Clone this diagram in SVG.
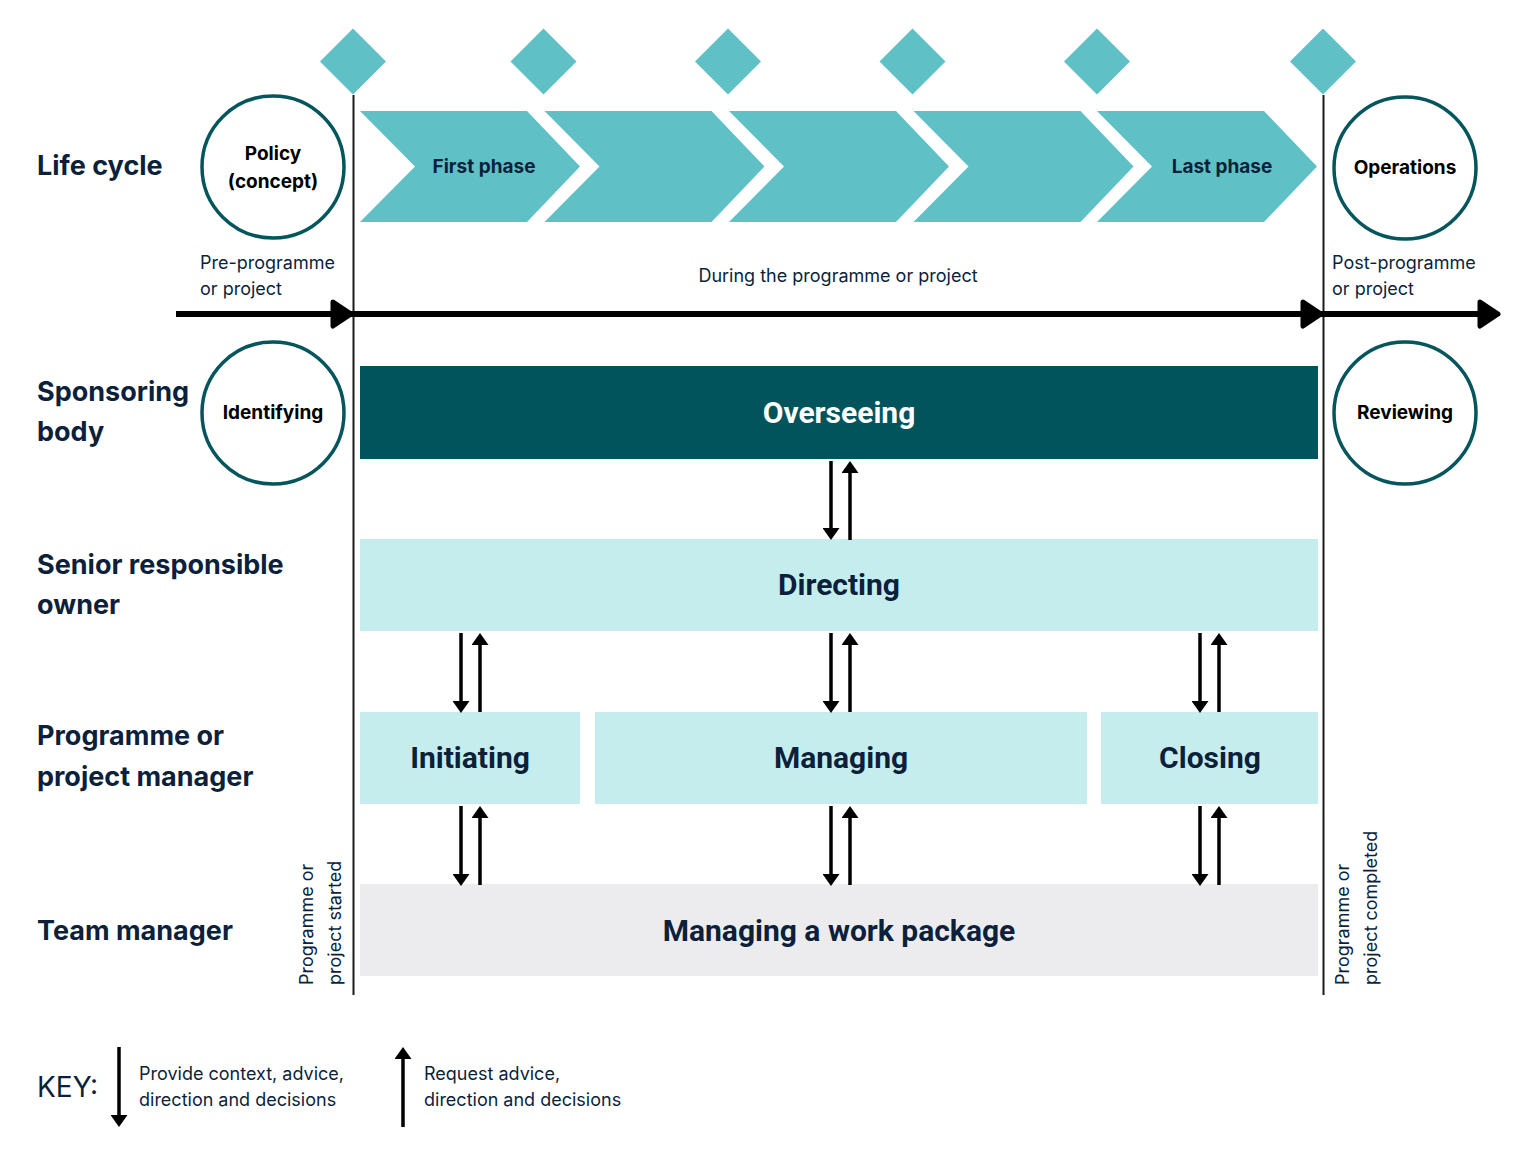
<svg xmlns="http://www.w3.org/2000/svg" width="1536" height="1159" viewBox="0 0 1536 1159">
<style>
.lbl{font-family:Inter,"Noto Sans",sans-serif;font-weight:700;font-size:27px;fill:#0c1f3b}
.sm{font-family:Inter,"Noto Sans",sans-serif;font-weight:400;font-size:18px;fill:#0c1f3b}
.ct{font-family:Inter,"Noto Sans",sans-serif;font-weight:700;font-size:19px;fill:#000;text-anchor:middle}
.ch{font-family:Inter,"Noto Sans",sans-serif;font-weight:700;font-size:19px;fill:#0c1f3b;text-anchor:middle}
.bar{font-family:Roboto,"Noto Sans",sans-serif;font-weight:700;font-size:30px;fill:#0c1f3b;text-anchor:middle}
.circ{fill:#fff;stroke:#04565c;stroke-width:3.5}
.dia{fill:#5fc0c5}
.chev{fill:#5fc0c5}
.vline{stroke:#1a1a1a;stroke-width:2}
.arr{stroke:#000;stroke-width:3.5;fill:none;marker-end:url(#head)}
.thead{fill:#000;stroke:#000;stroke-width:5;stroke-linejoin:round}
</style>
<defs>
<marker id="head" viewBox="0 0 12 17" refX="3" refY="8.5" markerWidth="12" markerHeight="17" markerUnits="userSpaceOnUse" orient="auto">
<path d="M0,0 L12,8.5 L0,17 Z" fill="#000"/>
</marker>
</defs>
<rect width="1536" height="1159" fill="#fff"/>

<g id="milestones">
<path class="dia" d="M353,28.5 L386,61.5 L353,94.5 L320,61.5 Z"/>
<path class="dia" d="M543.5,28.5 L576.5,61.5 L543.5,94.5 L510.5,61.5 Z"/>
<path class="dia" d="M728,28.5 L761,61.5 L728,94.5 L695,61.5 Z"/>
<path class="dia" d="M912.5,28.5 L945.5,61.5 L912.5,94.5 L879.5,61.5 Z"/>
<path class="dia" d="M1097,28.5 L1130,61.5 L1097,94.5 L1064,61.5 Z"/>
<path class="dia" d="M1323,28.5 L1356,61.5 L1323,94.5 L1290,61.5 Z"/>
</g>

<g id="vertical-lines">
<line class="vline" x1="353.5" y1="95" x2="353.5" y2="995"/>
<line class="vline" x1="1323.5" y1="95" x2="1323.5" y2="995"/>
</g>

<g id="phases">
<path class="chev" d="M360,111 L527,111 L580,166.5 L527,222 L360,222 L415,166.5 Z"/>
<path class="chev" d="M544.5,111 L711.5,111 L764.5,166.5 L711.5,222 L544.5,222 L599.5,166.5 Z"/>
<path class="chev" d="M729,111 L896,111 L949,166.5 L896,222 L729,222 L784,166.5 Z"/>
<path class="chev" d="M913.5,111 L1080.5,111 L1133.5,166.5 L1080.5,222 L913.5,222 L968.5,166.5 Z"/>
<path class="chev" d="M1097,111 L1264,111 L1317,166.5 L1264,222 L1097,222 L1152,166.5 Z"/>
<text class="ch" x="484" y="173">First phase</text>
<text class="ch" x="1222" y="173">Last phase</text>
</g>

<g id="policy">
<circle class="circ" cx="273" cy="167" r="71"/>
<text class="ct" x="273" y="160">Policy</text>
<text class="ct" x="273" y="188">(concept)</text>
</g>
<g id="operations">
<circle class="circ" cx="1405" cy="168" r="71"/>
<text class="ct" x="1405" y="174">Operations</text>
</g>
<g id="identifying">
<circle class="circ" cx="273" cy="413" r="71"/>
<text class="ct" x="273" y="419">Identifying</text>
</g>
<g id="reviewing">
<circle class="circ" cx="1405" cy="413" r="71"/>
<text class="ct" x="1405" y="419">Reviewing</text>
</g>

<g id="row-labels">
<text class="lbl" x="37" y="175">Life cycle</text>
<text class="lbl" x="37" y="401">Sponsoring</text>
<text class="lbl" x="37" y="441">body</text>
<text class="lbl" x="37" y="574">Senior responsible</text>
<text class="lbl" x="37" y="614">owner</text>
<text class="lbl" x="37" y="745">Programme or</text>
<text class="lbl" x="37" y="786">project manager</text>
<text class="lbl" x="37" y="940">Team manager</text>
</g>

<g id="timeline">
<line x1="176" y1="314" x2="1490" y2="314" stroke="#000" stroke-width="6"/>
<path class="thead" d="M333,302 L351,314 L333,326 Z"/>
<path class="thead" d="M1303,302 L1321,314 L1303,326 Z"/>
<path class="thead" d="M1480,302 L1498,314 L1480,326 Z"/>
<text class="sm" x="200" y="269">Pre-programme</text>
<text class="sm" x="200" y="295">or project</text>
<text class="sm" x="838" y="282" text-anchor="middle">During the programme or project</text>
<text class="sm" x="1332" y="269">Post-programme</text>
<text class="sm" x="1332" y="295">or project</text>
</g>

<g id="overseeing">
<rect x="360" y="366" width="958" height="93" fill="#02545c"/>
<text class="bar" x="839" y="423" style="fill:#fff">Overseeing</text>
</g>
<g id="directing">
<rect x="360" y="539" width="958" height="92" fill="#c6eded"/>
<text class="bar" x="839" y="595">Directing</text>
</g>
<g id="initiating">
<rect x="360" y="712" width="220" height="92" fill="#c6eded"/>
<text class="bar" x="470" y="768">Initiating</text>
</g>
<g id="managing">
<rect x="595" y="712" width="492" height="92" fill="#c6eded"/>
<text class="bar" x="841" y="768">Managing</text>
</g>
<g id="closing">
<rect x="1101" y="712" width="217" height="92" fill="#c6eded"/>
<text class="bar" x="1210" y="768">Closing</text>
</g>
<g id="work-package">
<rect x="360" y="884" width="958" height="92" fill="#ececee"/>
<text class="bar" x="839" y="941">Managing a work package</text>
</g>

<g id="connectors">
<line class="arr" x1="831" y1="461" x2="831" y2="531"/>
<line class="arr" x1="850" y1="540" x2="850" y2="470"/>
<line class="arr" x1="461" y1="633" x2="461" y2="704"/>
<line class="arr" x1="480" y1="712" x2="480" y2="642"/>
<line class="arr" x1="831" y1="633" x2="831" y2="704"/>
<line class="arr" x1="850" y1="712" x2="850" y2="642"/>
<line class="arr" x1="1200" y1="633" x2="1200" y2="704"/>
<line class="arr" x1="1219" y1="712" x2="1219" y2="642"/>
<line class="arr" x1="461" y1="806" x2="461" y2="877"/>
<line class="arr" x1="480" y1="885" x2="480" y2="815"/>
<line class="arr" x1="831" y1="806" x2="831" y2="877"/>
<line class="arr" x1="850" y1="885" x2="850" y2="815"/>
<line class="arr" x1="1200" y1="806" x2="1200" y2="877"/>
<line class="arr" x1="1219" y1="885" x2="1219" y2="815"/>
</g>

<g id="start-label">
<text class="sm" transform="translate(313,985) rotate(-90)"><tspan x="0" y="0">Programme or</tspan><tspan x="0" y="28">project started</tspan></text>
</g>
<g id="end-label">
<text class="sm" transform="translate(1349,985) rotate(-90)"><tspan x="0" y="0">Programme or</tspan><tspan x="0" y="28">project completed</tspan></text>
</g>

<g id="key">
<text x="37" y="1097" style="font-family:Inter,'Noto Sans',sans-serif;font-size:28px;fill:#0c1f3b">KEY:</text>
<line class="arr" x1="119" y1="1047" x2="119" y2="1118"/>
<text class="sm" x="139" y="1080">Provide context, advice,</text>
<text class="sm" x="139" y="1106">direction and decisions</text>
<line class="arr" x1="403" y1="1127" x2="403" y2="1056"/>
<text class="sm" x="424" y="1080">Request advice,</text>
<text class="sm" x="424" y="1106">direction and decisions</text>
</g>
</svg>
